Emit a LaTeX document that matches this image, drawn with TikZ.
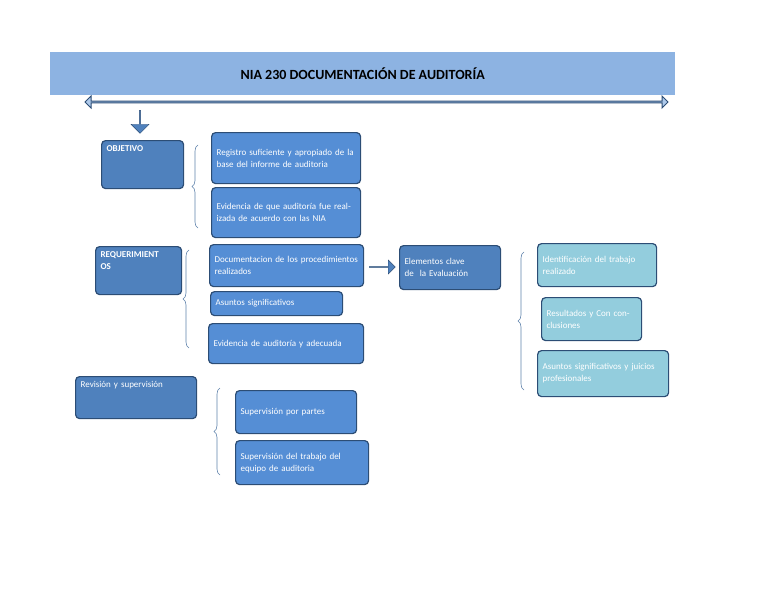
\documentclass[tikz,border=0pt]{standalone}
\usepackage{fontspec}
\setmainfont{Carlito}
\usetikzlibrary{decorations.pathreplacing,shapes.arrows}
\definecolor{ttl}{HTML}{8DB3E2}
\definecolor{dk}{HTML}{4F81BD}
\definecolor{md}{HTML}{558ED5}
\definecolor{lt}{HTML}{93CDDD}
\definecolor{edge}{HTML}{2C4D75}
\tikzset{
 bx/.style={draw=edge,line width=1.2pt,rounded corners=4pt,anchor=north west,inner sep=5pt,
   text=white,font=\fontsize{9}{12}\selectfont,align=left},
 br/.style={draw=dk!70!gray,line width=0.6pt,decorate,decoration={brace,amplitude=6pt,mirror}},
}
\newcommand{\bxx}[7]{% name color x y w h text
 \node[bx,fill=#2,minimum width=#5pt,minimum height=#6pt,text width=#5pt-10pt] (#1) at (#3,#4) {#7};}
\begin{document}
\begin{tikzpicture}[x=1pt,y=-1pt]
\useasboundingbox (0,0) rectangle (768,594);
\node[fill=ttl,anchor=north west,minimum width=625pt,minimum height=43pt,inner sep=0pt,font=\fontsize{14}{16}\selectfont\bfseries] (title) at (50,52) {NIA 230 DOCUMENTACIÓN DE AUDITORÍA};
\coordinate (al) at (85,102); \coordinate (ar) at (668,102);
\node[double arrow,draw=edge,fill=ttl!70,line width=1pt,minimum height=583pt,minimum width=12pt,double arrow head extend=3pt,inner sep=0pt] (dar) at (376.5,102) {};
\node[single arrow,shape border rotate=270,draw=edge,fill=dk,minimum height=23pt,minimum width=18pt,single arrow head extend=3pt,inner sep=0pt] (down) at (140,121.5) {};
% objetivo
\bxx{obj}{dk}{101}{140}{82}{48}{\parbox[t][38pt][t]{70pt}{\textbf{OBJETIVO}}}
\bxx{reg}{md}{211}{132}{149}{51}{Registro suficiente y apropiado de la base del informe de auditoria}
\bxx{evi}{md}{211}{187}{149}{50}{Evidencia de que auditoría fue realizada de acuerdo con las NIA}
\draw[br] (198,145) -- (198,228);
% requerimientos
\bxx{req}{dk}{95}{246}{86}{48}{\parbox[t][38pt][t]{76pt}{\textbf{REQUERIMIENT\\OS}}}
\bxx{doc}{md}{209}{244}{154}{42}{Documentacion de los procedimientos realizados}
\bxx{asu}{md}{210}{291}{132}{24}{Asuntos significativos}
\bxx{eva}{md}{208}{323}{155}{40}{Evidencia de auditoría y adecuada}
\draw[br] (189,250) -- (189,348);
\node[single arrow,draw=edge,fill=dk,minimum height=26pt,minimum width=14pt,single arrow head extend=3pt,inner sep=0pt] (rar) at (382,267) {};
\bxx{ele}{dk}{399}{245}{101}{44}{Elementos clave\\de\ \ la Evaluación}
\draw[br] (524,252) -- (524,390);
\bxx{ide}{lt}{537}{243}{119}{43}{Identificación del trabajo realizado}
\bxx{res}{lt}{541}{297}{100}{43}{Resultados y Con conclusiones}
\bxx{jui}{lt}{537}{350}{131}{46}{Asuntos significativos y juicios profesionales}
% revision
\bxx{rev}{dk}{75}{376}{121}{42}{\parbox[t][32pt][t]{111pt}{Revisión y supervisión}}
\bxx{sup}{md}{235}{390}{121}{43}{Supervisión por partes}
\bxx{sut}{md}{235}{440}{133}{44}{Supervisión del trabajo del equipo de auditoria}
\draw[br] (220,388) -- (220,475);
\end{tikzpicture}
\end{document}
